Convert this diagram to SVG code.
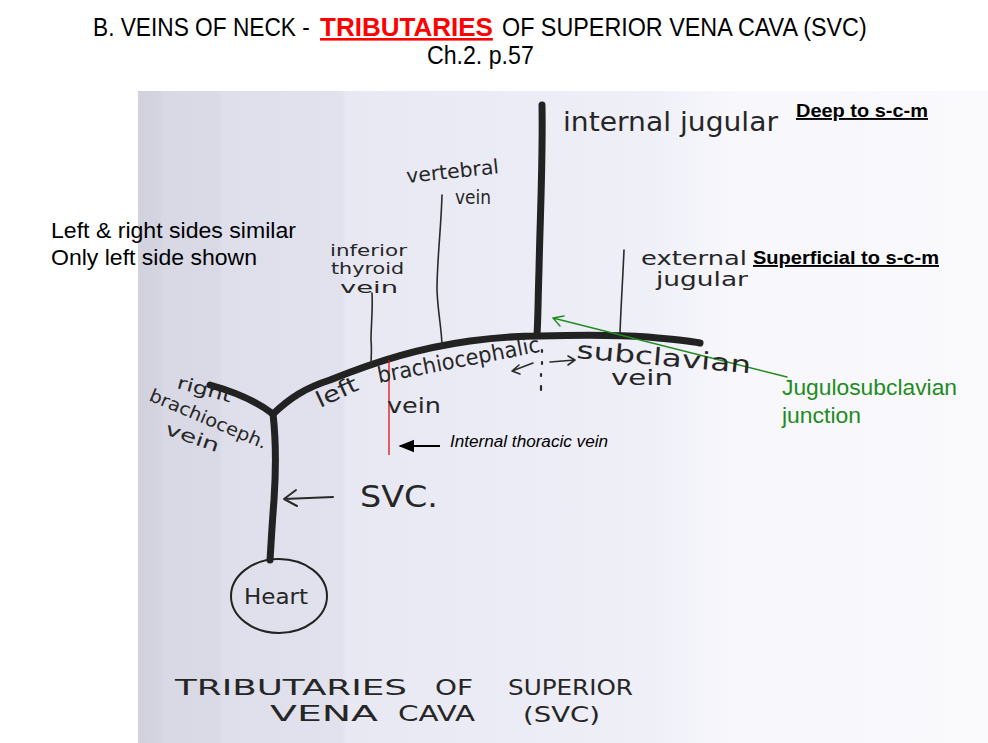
<svg xmlns="http://www.w3.org/2000/svg" width="988" height="743" viewBox="0 0 988 743">
<defs>
<style>
.ttl{font-family:"Liberation Sans",Arial,sans-serif;font-size:26px;fill:#000}
.note{font-family:"Liberation Sans",Arial,sans-serif;font-size:22px;fill:#000}
.bu{font-family:"Liberation Sans",Arial,sans-serif;font-size:19px;font-weight:bold;fill:#000;text-decoration:underline}
.grn{font-family:"Liberation Sans",Arial,sans-serif;font-size:22px;fill:#1e8c1e}
.hw{font-family:"DejaVu Sans","Liberation Sans",sans-serif;fill:#262626;font-weight:normal}
.thick{fill:none;stroke:#222;stroke-width:7;stroke-linecap:round;stroke-linejoin:round}
.thin{fill:none;stroke:#2a2a2a;stroke-width:1.6;stroke-linecap:round}
.hand{fill:none;stroke:#2a2a2a;stroke-width:2;stroke-linecap:round;stroke-linejoin:round}
</style>
<linearGradient id="scan" x1="138" y1="0" x2="988" y2="0" gradientUnits="userSpaceOnUse">
<stop offset="0" stop-color="#d2d2de"/>
<stop offset="0.025" stop-color="#d4d4e0"/>
<stop offset="0.03" stop-color="#d9d9e5"/>
<stop offset="0.095" stop-color="#dadae6"/>
<stop offset="0.1" stop-color="#dfdfeb"/>
<stop offset="0.24" stop-color="#e2e2ee"/>
<stop offset="0.245" stop-color="#e8e8f3"/>
<stop offset="0.6" stop-color="#efeff8"/>
<stop offset="0.7" stop-color="#f7f7fc"/>
<stop offset="1" stop-color="#fafafd"/>
</linearGradient>
<marker id="blk" viewBox="0 0 10 10" refX="9" refY="5" markerWidth="8" markerHeight="8" orient="auto">
<path d="M0,1 L10,5 L0,9 z" fill="#000"/>
</marker>
</defs>
<rect width="988" height="743" fill="#fff"/>
<rect x="138" y="91" width="850" height="652" fill="url(#scan)"/>

<g id="title">
<text class="ttl" transform="translate(93 36) scale(0.873 1)">B. VEINS OF NECK -</text>
<text class="ttl" transform="translate(320 36) scale(1.0 1)" style="fill:#ff0000;font-weight:bold;text-decoration:underline">TRIBUTARIES</text>
<text class="ttl" transform="translate(502 36) scale(0.898 1)">OF SUPERIOR VENA CAVA (SVC)</text>
<text class="ttl" transform="translate(427 64) scale(0.89 1)">Ch.2. p.57</text>
</g>

<g id="side-note">
<text class="note" x="51" y="238" textLength="245" lengthAdjust="spacingAndGlyphs">Left &amp; right sides similar</text>
<text class="note" x="51" y="265" textLength="206" lengthAdjust="spacingAndGlyphs">Only left side shown</text>
</g>

<g id="connectors">
<path class="thick" d="M210,385 C235,392 255,400 273,414"/>
<path class="thick" d="M273,414 C290,398 305,388 330,380 C380,360 420,348 470,341 C500,337 520,336 540,336 C580,335 620,335 648,337 C670,339 690,341 700,343"/>
<path class="thick" d="M273,414 C276,440 276,470 274,500 C272,525 271,545 270,560"/>
<path class="thick" d="M542,105 C543,160 540,220 539,270 C538,300 538,320 537,335"/>
<path class="thin" d="M442,195 C441,230 437,260 437,290 C438,315 442,330 442,347"/>
<path class="thin" d="M372,293 C373,310 371,325 371,340 C372,350 371,358 371,365"/>
<path class="thin" d="M624,250 C623,275 621,305 620,333"/>
<line x1="389" y1="360" x2="389" y2="455" stroke="#e0101a" stroke-width="1.3"/>
<line x1="440" y1="446" x2="400" y2="446" stroke="#000" stroke-width="2" marker-end="url(#blk)"/>
<path class="hand" d="M333,497 L284,499 M296,490 L284,499 L297,506"/>
<path class="hand" d="M542,350 L542,352 M542,362 L542,364 M541,374 L541,376 M541,386 L541,390" style="stroke-width:2.2"/>
<path class="hand" d="M533,363 L512,371 M519,365 L512,371 L520,374" style="stroke-width:1.6"/>
<path class="hand" d="M550,362 L575,360 M568,356 L575,360 L568,365" style="stroke-width:1.6"/>
<path d="M787,377 L553,318 M564,316 L553,318 L560,326" fill="none" stroke="#1e8c1e" stroke-width="1.4" stroke-linecap="round"/>
</g>

<g id="heart">
<ellipse cx="279" cy="596" rx="48" ry="37" fill="none" stroke="#222" stroke-width="2"/>
<text class="hw" x="244" y="604" font-size="22" textLength="64" lengthAdjust="spacingAndGlyphs">Heart</text>
</g>

<g id="internal-jugular">
<text class="hw" x="563" y="131" font-size="26" textLength="215" lengthAdjust="spacingAndGlyphs">internal jugular</text>
<text class="bu" x="796" y="117" textLength="132" lengthAdjust="spacingAndGlyphs">Deep to s-c-m</text>
</g>

<g id="vertebral-vein">
<text class="hw" x="407" y="183" font-size="20" textLength="93" lengthAdjust="spacingAndGlyphs" transform="rotate(-6 407 183)">vertebral</text>
<text class="hw" x="455" y="204" font-size="19" textLength="36" lengthAdjust="spacingAndGlyphs">vein</text>
</g>

<g id="inferior-thyroid-vein">
<text class="hw" x="330" y="256" font-size="16" textLength="77" lengthAdjust="spacingAndGlyphs">inferior</text>
<text class="hw" x="331" y="274" font-size="16" textLength="73" lengthAdjust="spacingAndGlyphs">thyroid</text>
<text class="hw" x="340" y="293" font-size="16" textLength="58" lengthAdjust="spacingAndGlyphs">vein</text>
</g>

<g id="external-jugular">
<text class="hw" x="641" y="265" font-size="19" textLength="106" lengthAdjust="spacingAndGlyphs">external</text>
<text class="hw" x="656" y="286" font-size="19" textLength="92" lengthAdjust="spacingAndGlyphs">jugular</text>
<text class="bu" x="753" y="264" textLength="186" lengthAdjust="spacingAndGlyphs">Superficial to s-c-m</text>
</g>

<g id="subclavian-vein">
<text class="hw" x="576" y="358" font-size="24" textLength="175" lengthAdjust="spacingAndGlyphs" transform="rotate(5 576 358)">subclavian</text>
<text class="hw" x="611" y="385" font-size="22" textLength="62" lengthAdjust="spacingAndGlyphs">vein</text>
</g>

<g id="jugulosubclavian-junction">
<text class="grn" x="782" y="395" textLength="175" lengthAdjust="spacingAndGlyphs">Jugulosubclavian</text>
<text class="grn" x="782" y="423" textLength="79" lengthAdjust="spacingAndGlyphs">junction</text>
</g>

<g id="left-brachiocephalic-vein">
<text class="hw" x="320" y="408" font-size="22" textLength="44" lengthAdjust="spacingAndGlyphs" transform="rotate(-25 320 408)">left</text>
<text class="hw" x="379" y="383" font-size="22" textLength="165" lengthAdjust="spacingAndGlyphs" transform="rotate(-11 379 383)">brachiocephalic</text>
<text class="hw" x="387" y="413" font-size="22" textLength="54" lengthAdjust="spacingAndGlyphs">vein</text>
</g>

<g id="right-brachiocephalic-vein">
<text class="hw" x="176" y="388" font-size="18" textLength="56" lengthAdjust="spacingAndGlyphs" transform="rotate(15 176 388)">right</text>
<text class="hw" x="148" y="400" font-size="18" textLength="126" lengthAdjust="spacingAndGlyphs" transform="rotate(23 148 400)">brachioceph.</text>
<text class="hw" x="164" y="434" font-size="18" textLength="56" lengthAdjust="spacingAndGlyphs" transform="rotate(19 164 434)">vein</text>
</g>

<g id="internal-thoracic-vein">
<text x="450" y="447" font-family="Liberation Sans, Arial, sans-serif" font-size="16" font-style="italic" fill="#000" textLength="158" lengthAdjust="spacingAndGlyphs">Internal thoracic vein</text>
</g>

<g id="svc">
<text class="hw" x="360" y="507" font-size="30" textLength="78" lengthAdjust="spacingAndGlyphs">SVC.</text>
</g>

<g id="caption">
<text class="hw" x="175" y="695" font-size="22" textLength="232" lengthAdjust="spacingAndGlyphs">TRIBUTARIES</text>
<text class="hw" x="435" y="695" font-size="22" textLength="38" lengthAdjust="spacingAndGlyphs">OF</text>
<text class="hw" x="508" y="695" font-size="22" textLength="125" lengthAdjust="spacingAndGlyphs">SUPERIOR</text>
<text class="hw" x="270" y="721" font-size="22" textLength="108" lengthAdjust="spacingAndGlyphs">VENA</text>
<text class="hw" x="398" y="721" font-size="22" textLength="77" lengthAdjust="spacingAndGlyphs">CAVA</text>
<text class="hw" x="523" y="722" font-size="22" textLength="77" lengthAdjust="spacingAndGlyphs">(SVC)</text>
</g>
</svg>
